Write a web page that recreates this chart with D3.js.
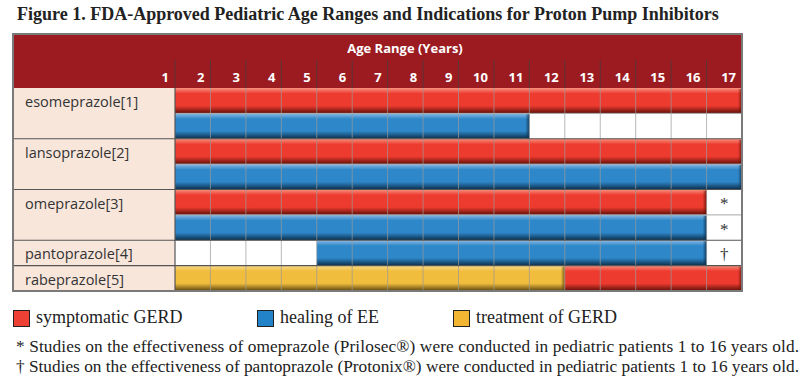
<!DOCTYPE html>
<html>
<head>
<meta charset="utf-8">
<script src="https://cdn.jsdelivr.net/npm/d3@7"></script>
<style>
  body { margin: 0; background: #fff; }
</style>
</head>
<body>
<div class="container"></div>
<script>
// data
var title = "Figure 1. FDA-Approved Pediatric Age Ranges and Indications for Proton Pump Inhibitors";
var years = [1, 2, 3, 4, 5, 6, 7, 8, 9, 10, 11, 12, 13, 14, 15, 16, 17];
var drugs = ["esomeprazole[1]", "lansoprazole[2]", "omeprazole[3]", "pantoprazole[4]", "rabeprazole[5]"];
var drugLanes = [2, 2, 2, 1, 1];          // sub rows per drug
var indications = ["symptomatic GERD", "healing of EE", "treatment of GERD"];
var barLane = [0, 1, 2, 3, 4, 5, 6, 7, 7];
var barType = [0, 1, 0, 1, 0, 1, 1, 2, 0];
var barStart = [1, 1, 1, 1, 1, 1, 5, 1, 12];
var barEnd = [17, 11, 17, 17, 16, 16, 16, 12, 17];
var noteLane = [4, 5, 6];
var noteMark = ["*", "*", "\u2020"];
var footnotes = [
  "* Studies on the effectiveness of omeprazole (Prilosec\u00AE) were conducted in pediatric patients 1 to 16 years old.",
  "\u2020 Studies on the effectiveness of pantoprazole (Protonix\u00AE) were conducted in pediatric patients 1 to 16 years old."
];

var colors = ["#ee3b2f", "#2e87c8", "#f0bd3d"];
var lights = ["#f7917f", "#8dbbe6", "#f9dc8c"];
var darks = ["#5e0f08", "#0b2d4a", "#5a4410"];
var legendColors = ["#ee4035", "#2383c8", "#f2b632"];

var W = 808, H = 384;
var left = 13, labelRight = 175, right = 742;
var tableTop = 34, headBottom = 88, tableBottom = 291;
var nLanes = d3.sum(drugLanes);

var x = d3.scaleLinear().domain([years[0], years[years.length - 1]]).range([labelRight, right]);
var y = d3.scaleBand().domain(d3.range(nLanes)).range([headBottom, tableBottom]);

var svg = d3.select(".container").append("svg")
    .attr("width", W)
    .attr("height", H);

// gradients for the bevelled bars
var defs = svg.append("defs");
colors.forEach(function(c, i) {
  var g = defs.append("linearGradient")
      .attr("id", "grad" + i)
      .attr("x1", 0).attr("y1", 0).attr("x2", 0).attr("y2", 1);
  g.append("stop").attr("offset", "0%").attr("stop-color", lights[i]);
  g.append("stop").attr("offset", "22%").attr("stop-color", c);
  g.append("stop").attr("offset", "70%").attr("stop-color", c);
  g.append("stop").attr("offset", "100%").attr("stop-color", darks[i]);
  var e = defs.append("linearGradient")
      .attr("id", "end" + i)
      .attr("x1", 0).attr("y1", 0).attr("x2", 1).attr("y2", 0);
  e.append("stop").attr("offset", "0%").attr("stop-color", darks[i]).attr("stop-opacity", 0);
  e.append("stop").attr("offset", "100%").attr("stop-color", darks[i]).attr("stop-opacity", 0.8);
});

// title
svg.append("text")
  .attr("x", 17).attr("y", 20)
  .style("font-family", "'Liberation Serif', 'Times New Roman', serif")
  .style("font-weight", "bold")
  .style("font-size", "18px")
  .style("fill", "#222")
  .text(title);

// header band
svg.append("rect")
  .attr("x", left).attr("y", tableTop)
  .attr("width", right - left).attr("height", headBottom - tableTop)
  .attr("fill", "#9b1b21");

svg.append("text")
  .attr("x", 405).attr("y", 53)
  .attr("text-anchor", "middle")
  .style("font-family", "'Open Sans', sans-serif")
  .style("font-weight", "bold")
  .style("font-size", "13px")
  .style("fill", "#fff")
  .text("Age Range (Years)");

// header column lines
svg.append("g").selectAll("line")
  .data(years.slice(0, -1))
  .enter().append("line")
    .attr("x1", function(d) { return x(d); })
    .attr("x2", function(d) { return x(d); })
    .attr("y1", 60).attr("y2", headBottom)
    .attr("stroke", "#5b3535")
    .attr("stroke-width", 1);

svg.append("g").selectAll("text")
  .data(years)
  .enter().append("text")
    .attr("x", function(d) { return x(d) - 6; })
    .attr("y", 82)
    .attr("text-anchor", "end")
    .style("font-family", "'Open Sans', sans-serif")
    .style("font-weight", "bold")
    .style("font-size", "13px")
    .style("fill", "#fff")
    .text(function(d) { return d; });

// label column and white grid area
svg.append("rect")
  .attr("x", left).attr("y", headBottom)
  .attr("width", labelRight - left).attr("height", tableBottom - headBottom)
  .attr("fill", "#f8e6db");
svg.append("rect")
  .attr("x", labelRight).attr("y", headBottom)
  .attr("width", right - labelRight).attr("height", tableBottom - headBottom)
  .attr("fill", "#fff");

// bars
var bars = svg.append("g");
barLane.forEach(function(lane, i) {
  var x0 = x(barStart[i]), x1 = x(barEnd[i]);
  var t = barType[i];
  bars.append("rect")
    .attr("x", x0).attr("y", y(lane))
    .attr("width", x1 - x0).attr("height", y.bandwidth())
    .attr("fill", "url(#grad" + t + ")");
  bars.append("rect")
    .attr("x", x1 - 4).attr("y", y(lane) + 1)
    .attr("width", 4).attr("height", y.bandwidth() - 1)
    .attr("fill", "url(#end" + t + ")");
});

// vertical grid lines in body
svg.append("g").selectAll("line")
  .data(years.slice(1, -1))
  .enter().append("line")
    .attr("x1", function(d) { return x(d); })
    .attr("x2", function(d) { return x(d); })
    .attr("y1", headBottom).attr("y2", tableBottom)
    .attr("stroke", "#9a9a9a")
    .attr("stroke-opacity", 0.7)
    .attr("stroke-width", 1);

// horizontal lines: light between sub rows, dark between drugs
var drugStart = [];
var acc = 0;
drugLanes.forEach(function(n) { drugStart.push(acc); acc += n; });

svg.append("g").selectAll("line")
  .data(d3.range(1, nLanes).filter(function(l) { return drugStart.indexOf(l) < 0; }))
  .enter().append("line")
    .attr("x1", labelRight).attr("x2", right)
    .attr("y1", function(d) { return y(d); })
    .attr("y2", function(d) { return y(d); })
    .attr("stroke", "#a8a8a8")
    .attr("stroke-width", 1);

svg.append("g").selectAll("line")
  .data(drugStart.slice(1))
  .enter().append("line")
    .attr("x1", left).attr("x2", right)
    .attr("y1", function(d) { return y(d); })
    .attr("y2", function(d) { return y(d); })
    .attr("stroke", "#555")
    .attr("stroke-width", 1.2);

svg.append("line")
  .attr("x1", labelRight).attr("x2", labelRight)
  .attr("y1", headBottom).attr("y2", tableBottom)
  .attr("stroke", "#555")
  .attr("stroke-width", 1.2);

// drug labels
svg.append("g").selectAll("text")
  .data(drugs)
  .enter().append("text")
    .attr("x", 25)
    .attr("y", function(d, i) { return y(drugStart[i]) + 19; })
    .style("font-family", "'Open Sans', sans-serif")
    .style("font-size", "14.5px")
    .style("fill", "#333")
    .text(function(d) { return d; });

// note marks
svg.append("g").selectAll("text")
  .data(noteLane)
  .enter().append("text")
    .attr("x", (x(16) + x(17)) / 2)
    .attr("y", function(d) { return y(d) + y.bandwidth() / 2 + 7; })
    .attr("text-anchor", "middle")
    .style("font-family", "'Liberation Serif', serif")
    .style("font-size", "17px")
    .style("fill", "#333")
    .text(function(d, i) { return noteMark[i]; });

// outer border
svg.append("rect")
  .attr("x", left).attr("y", tableTop)
  .attr("width", right - left).attr("height", tableBottom - tableTop)
  .attr("fill", "none")
  .attr("stroke", "#7a7a7a")
  .attr("stroke-width", 2);

// legend
var legendX = [13, 257, 453];
var legend = svg.append("g").selectAll("g")
  .data(indications)
  .enter().append("g")
    .attr("transform", function(d, i) { return "translate(" + legendX[i] + ",310)"; });
legend.append("rect")
  .attr("x", 0.5).attr("y", 0.5)
  .attr("width", 16).attr("height", 16)
  .attr("fill", function(d, i) { return legendColors[i]; })
  .attr("stroke", "#222")
  .attr("stroke-width", 1);
legend.append("text")
  .attr("x", 23).attr("y", 13)
  .style("font-family", "'Liberation Serif', serif")
  .style("font-size", "18px")
  .style("fill", "#222")
  .text(function(d) { return d; });

// footnotes
svg.append("g").selectAll("text")
  .data(footnotes)
  .enter().append("text")
    .attr("x", 16)
    .attr("y", function(d, i) { return 352 + i * 20; })
    .attr("textLength", 783)
    .attr("lengthAdjust", "spacing")
    .style("font-family", "'Liberation Serif', serif")
    .style("font-size", "17.3px")
    .style("fill", "#222")
    .text(function(d) { return d; });
</script>
</body>
</html>
